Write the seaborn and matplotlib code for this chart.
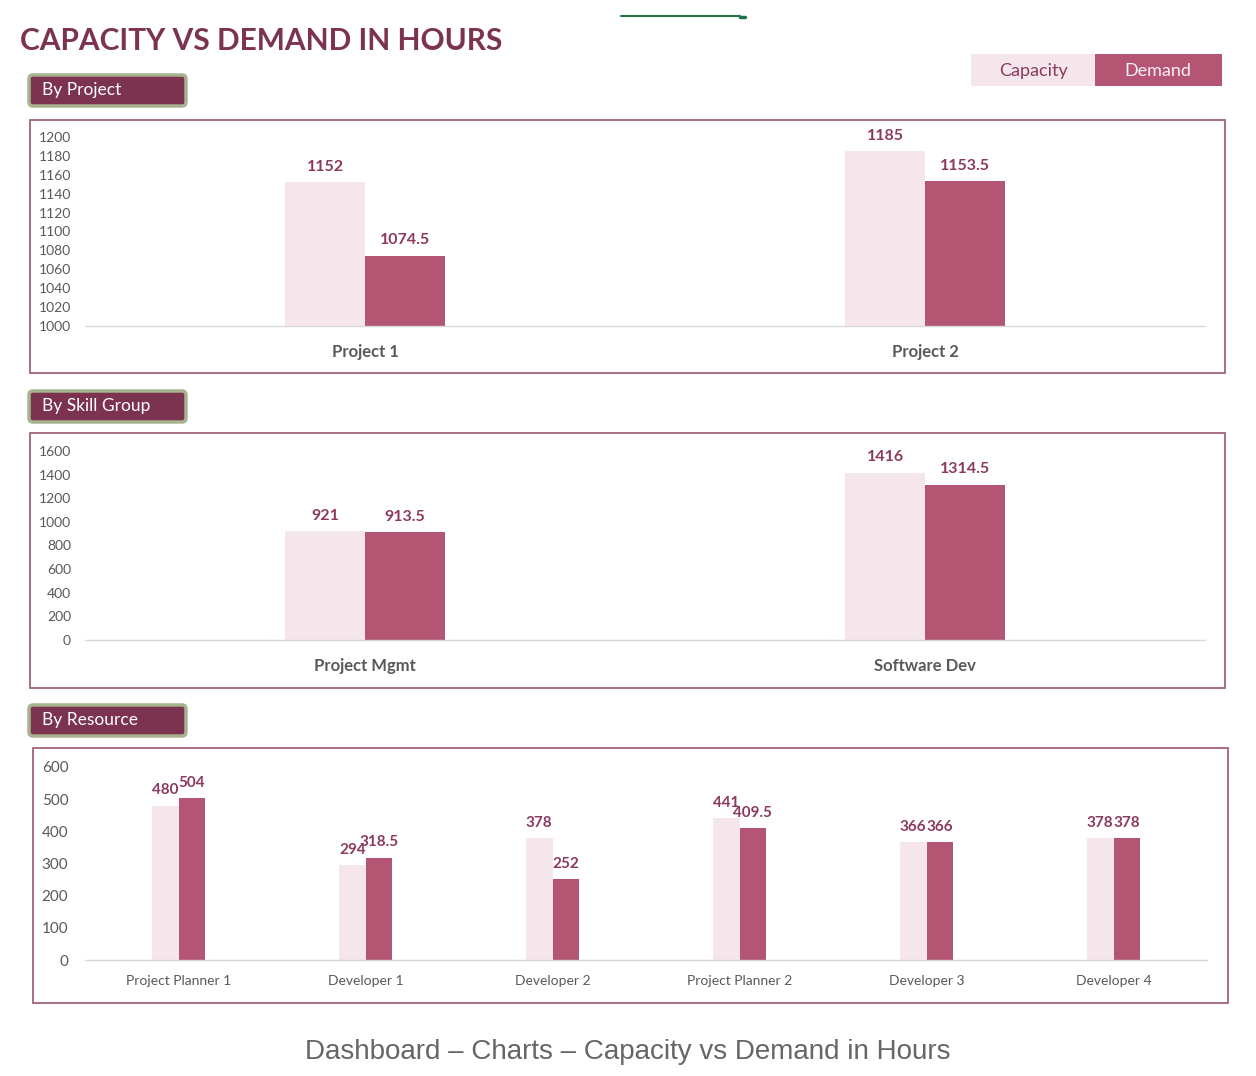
import matplotlib
matplotlib.use('Agg')
import matplotlib.pyplot as plt
import seaborn as sns
import pandas as pd
from matplotlib.patches import Rectangle, FancyBboxPatch

# 数据
series = ['Capacity', 'Demand']

projects = ['Project 1', 'Project 2']
project_capacity = [1152, 1185]
project_demand = [1074.5, 1153.5]

skills = ['Project Mgmt', 'Software Dev']
skill_capacity = [921, 1416]
skill_demand = [913.5, 1314.5]

resources = ['Project Planner 1', 'Developer 1', 'Developer 2',
             'Project Planner 2', 'Developer 3', 'Developer 4']
resource_capacity = [480, 294, 378, 441, 366, 378]
resource_demand = [504, 318.5, 252, 409.5, 366, 378]

# 颜色
cap_color = '#F5E6EB'
dem_color = '#B35573'
maroon = '#7B3350'
label_color = '#8B3A5E'
frame_color = '#A3627F'
gray = '#595959'

sns.set_theme(style='white')
plt.rcParams['font.family'] = ['Lato', 'DejaVu Sans']

W, H = 1256, 1076
fig = plt.figure(figsize=(W / 100, H / 100), dpi=100)
fig.patch.set_facecolor('white')

# 背景层（像素坐标）
bg = fig.add_axes([0, 0, 1, 1])
bg.set_xlim(0, W)
bg.set_ylim(H, 0)
bg.axis('off')
bg.patch.set_alpha(0)

bg.text(20, 41, 'CAPACITY VS DEMAND IN HOURS', fontsize=21.5, fontweight='bold',
        color=maroon, va='center', ha='left')
bg.plot([621, 740], [16, 16], color='#217346', lw=1.5)
bg.plot([740, 745], [17, 17], color='#217346', lw=2.5)

# 图例
bg.add_patch(Rectangle((971, 54), 124, 32, facecolor=cap_color, edgecolor='none'))
bg.add_patch(Rectangle((1095, 54), 127, 32, facecolor=dem_color, edgecolor='none'))
bg.text(1033, 71, 'Capacity', fontsize=13, color=label_color, ha='center', va='center')
bg.text(1158, 71, 'Demand', fontsize=13, color='#F8EEF2', ha='center', va='center')

# 分区标签和外框
sections = [('By Project', 73, (30, 120, 1195, 253)),
            ('By Skill Group', 389, (30, 433, 1195, 255)),
            ('By Resource', 703, (33, 748, 1195, 255))]
for name, ty, (fx, fy, fw, fh) in sections:
    bg.add_patch(FancyBboxPatch((29, ty + 2), 157, 31, boxstyle='round,pad=0,rounding_size=4',
                                facecolor=maroon, edgecolor='#A6B38E', lw=2.5))
    bg.text(42, ty + 17.5, name, fontsize=12.5, color='white', ha='left', va='center')
    bg.add_patch(Rectangle((fx, fy), fw, fh, facecolor='none', edgecolor=frame_color, lw=1.3))

bg.text(628, 1052, 'Dashboard \u2013 Charts \u2013 Capacity vs Demand in Hours',
        fontsize=20, color='#666666', ha='center', va='center', family='Liberation Sans')


def px_axes(x0, y_top, x1, y_bot):
    return fig.add_axes([x0 / W, 1 - y_bot / H, (x1 - x0) / W, (y_bot - y_top) / H])


def draw_panel(ax, cats, cap, dem, ylim, step, tick_size, cat_size, cat_weight, val_size,
               tick_pad, cat_pad):
    df = pd.DataFrame({
        'name': cats * 2,
        'hours': cap + dem,
        'series': [series[0]] * len(cats) + [series[1]] * len(cats),
    })
    sns.barplot(data=df, x='name', y='hours', hue='series', order=cats, hue_order=series,
                palette={'Capacity': cap_color, 'Demand': dem_color}, width=0.285,
                legend=False, ax=ax, saturation=1, linewidth=0)
    ax.set_ylim(*ylim)
    ax.set_yticks(range(ylim[0], ylim[1] + 1, step))
    ax.set_xlabel('')
    ax.set_ylabel('')
    for s in ['top', 'right', 'left']:
        ax.spines[s].set_visible(False)
    ax.spines['bottom'].set_color('#D9D9D9')
    ax.spines['bottom'].set_linewidth(1)
    ax.tick_params(axis='y', length=0, labelsize=tick_size, labelcolor=gray, pad=tick_pad)
    ax.tick_params(axis='x', length=0, labelsize=cat_size, labelcolor=gray, pad=cat_pad)
    for t in ax.get_xticklabels():
        t.set_fontweight(cat_weight)
    for c in ax.containers:
        ax.bar_label(c, labels=['{:g}'.format(v) for v in c.datavalues], padding=6,
                     fontsize=val_size, fontweight='bold', color=label_color)
    ax.patch.set_alpha(0)


ax1 = px_axes(85, 137, 1205, 326)
draw_panel(ax1, projects, project_capacity, project_demand, (1000, 1200), 20,
           10, 12, 'bold', 11.5, 10, 13)

ax2 = px_axes(85, 451, 1205, 640)
draw_panel(ax2, skills, skill_capacity, skill_demand, (0, 1600), 200,
           10, 12, 'bold', 11.5, 10, 13)

ax3 = px_axes(85, 767, 1207, 960)
draw_panel(ax3, resources, resource_capacity, resource_demand, (0, 600), 100,
           11, 10, 'normal', 11, 12, 11)

fig.savefig('out.png', dpi=100, facecolor='white')
